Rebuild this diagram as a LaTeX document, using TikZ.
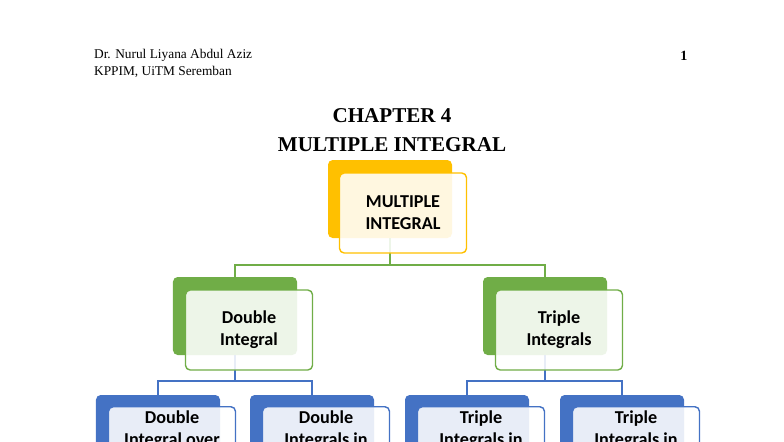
\documentclass[tikz,border=0pt]{standalone}
\usepackage{fontspec}
\setmainfont{Liberation Serif}
\newfontfamily\boxfont{Carlito}
\usetikzlibrary{positioning}
\definecolor{gold}{HTML}{FFC000}
\definecolor{leaf}{HTML}{70AD47}
\definecolor{sky}{HTML}{4472C4}
\begin{document}
\begin{tikzpicture}[x=0.03cm,y=-0.03cm]

  %Styles for picture
  \tikzset
  {
  back/.style={rectangle, rounded corners=4pt, minimum width=3.72cm, minimum height=2.34cm, inner sep=0pt, fill=#1},
  front/.style={rectangle, rounded corners=4pt, minimum width=3.81cm, minimum height=2.4cm, inner sep=0pt, draw=#1, line width=1.2pt, fill=white, fill opacity=0.88, text opacity=1, align=center, font=\boxfont\bfseries\fontsize{15.5}{19}\selectfont},
  link/.style={draw=#1, line width=1.1pt},
  }
  \useasboundingbox (0,0) rectangle (784,441);

  % Header
  \node[anchor=west, font=\fontsize{11.4}{13}\selectfont] (auth) at (90,55) {Dr. Nurul Liyana Abdul Aziz};
  \node[anchor=west, font=\fontsize{11.4}{13}\selectfont] (inst) at (90,72) {KPPIM, UiTM Seremban};
  \node[font=\bfseries\fontsize{12}{14}\selectfont] (page) at (684,56) {1};
  \node[font=\bfseries\fontsize{18}{20}\selectfont] (chap) at (392,116) {CHAPTER 4};
  \node[font=\bfseries\fontsize{18}{20}\selectfont] (title) at (392,145) {MULTIPLE INTEGRAL};

  % Back boxes
  \node[back=gold] (mB) at (390,199) {};
  \node[back=leaf] (dB) at (235,316) {};
  \node[back=leaf] (tB) at (545,316) {};
  \node[back=sky] (d1B) at (158,434) {};
  \node[back=sky] (d2B) at (312,434) {};
  \node[back=sky] (t1B) at (467,434) {};
  \node[back=sky] (t2B) at (622,434) {};

  % Connectors
  \coordinate (j0) at (390,265);
  \coordinate (j1) at (235,381);
  \coordinate (j2) at (545,381);
  \draw[link=leaf] (mB) -- (j0);
  \draw[link=leaf] (dB.north) |- (j0) -| (tB.north);
  \draw[link=sky] (dB) -- (j1);
  \draw[link=sky] (d1B.north) |- (j1) -| (d2B.north);
  \draw[link=sky] (tB) -- (j2);
  \draw[link=sky] (t1B.north) |- (j2) -| (t2B.north);

  % Front boxes
  \node[front=gold] (mF) at (403,213) {MULTIPLE\\INTEGRAL};
  \node[front=leaf] (dF) at (249,330) {Double\\Integral};
  \node[front=leaf] (tF) at (559,330) {Triple\\Integrals};
  \node[front=sky, anchor=north] (d1F) at (172,406) {\rule{0pt}{14pt}Double\\Integral over\\[1.6cm]};
  \node[front=sky, anchor=north] (d2F) at (326,406) {\rule{0pt}{14pt}Double\\Integrals in\\[1.6cm]};
  \node[front=sky, anchor=north] (t1F) at (481,406) {\rule{0pt}{14pt}Triple\\Integrals in\\[1.6cm]};
  \node[front=sky, anchor=north] (t2F) at (636,406) {\rule{0pt}{14pt}Triple\\Integrals in\\[1.6cm]};
\end{tikzpicture}
\end{document}
